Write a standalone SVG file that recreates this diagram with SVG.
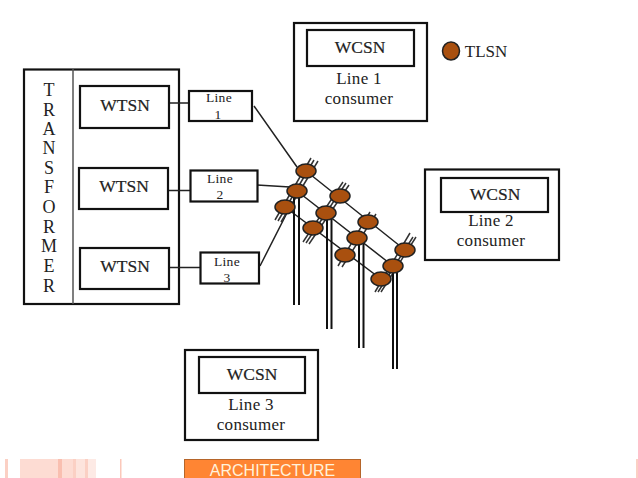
<svg xmlns="http://www.w3.org/2000/svg" width="638" height="478" viewBox="0 0 638 478">
<defs><style>
.b{fill:#fff;stroke:#111;stroke-width:2.2}
.t{font-family:"Liberation Serif",serif;fill:#222;text-anchor:middle}
.w{font-size:17.5px;stroke:#222;stroke-width:.2}
.s{font-size:13.5px;letter-spacing:.3px}
.c{font-size:17px;letter-spacing:.3px}
.n{fill:#a9500f;stroke:#222;stroke-width:1.5}
.l{fill:none;stroke:#222;stroke-width:1.5}
.h{fill:none;stroke:#333;stroke-width:1.5}
.p{fill:none;stroke:#111;stroke-width:2}
</style></defs>
<rect width="638" height="478" fill="#fff"/>
<g id="transformer">
<rect class="b" x="24" y="69.500" width="155" height="234.500"/>
<line x1="73" y1="69" x2="73" y2="304" stroke="#555" stroke-width="1.500"/>
<g class="t" font-size="18px">
<text x="49" y="96">T</text><text x="49" y="116">R</text><text x="49" y="135">A</text><text x="49" y="154">N</text><text x="49" y="174">S</text><text x="49" y="193">F</text><text x="49" y="213">O</text><text x="49" y="233">R</text><text x="49" y="252">M</text><text x="49" y="272">E</text><text x="49" y="292">R</text>
</g></g>
<g id="connectors">
<path class="l" d="M169 103H189M168 190.500H190M169 267.500H200"/>
<path class="l" d="M254 106L297 167M257 185L290 187M260 266L291 205"/>
<path class="l" d="M306 171L405 250M297 191L393 266M285 207L381 279"/>
<g class="h">
<path d="M311 158L275 220M314 160L278 221M318 161L281 222"/>
<path d="M343 182L303 242M346 183L306 243M349 185L309 244"/>
<path d="M370 212L338 266M376 214L342 267"/>
<path d="M410 233L375 292M413 237L378 292M416 237L381 292"/>
</g>
<g class="p">
<path d="M294 198V305M299 198V305M327 218V329M331.500 218V329M359 242V348M363.500 242V348M393 270V369M397 270V369"/>
</g></g>
<g id="node-wtsn-1"><rect class="b" x="80" y="86" width="89" height="42"/><text class="t w" x="125" y="111">WTSN</text></g>
<g id="node-wtsn-2"><rect class="b" x="79" y="168" width="89" height="41"/><text class="t w" x="124" y="192">WTSN</text></g>
<g id="node-wtsn-3"><rect class="b" x="80" y="248" width="89" height="41"/><text class="t w" x="125" y="272">WTSN</text></g>
<g id="node-line-1"><rect class="b" x="189" y="91" width="63" height="30"/><text class="t s" x="219" y="102">Line</text><text class="t s" x="218" y="119">1</text></g>
<g id="node-line-2"><rect class="b" x="190.500" y="170.500" width="67" height="31"/><text class="t s" x="220" y="183">Line</text><text class="t s" x="220" y="199">2</text></g>
<g id="node-line-3"><rect class="b" x="200.500" y="252.500" width="58.500" height="31"/><text class="t s" x="227" y="266">Line</text><text class="t s" x="227" y="282">3</text></g>
<g id="node-tlsn-grid">
<ellipse class="n" cx="306" cy="171" rx="10" ry="7"/><ellipse class="n" cx="297" cy="191" rx="10" ry="7"/><ellipse class="n" cx="285" cy="207" rx="10" ry="7"/>
<ellipse class="n" cx="340" cy="196" rx="10" ry="7"/><ellipse class="n" cx="326" cy="213" rx="10" ry="7"/><ellipse class="n" cx="313" cy="228" rx="10" ry="7"/>
<ellipse class="n" cx="368" cy="222" rx="10" ry="7"/><ellipse class="n" cx="357" cy="238" rx="10" ry="7"/><ellipse class="n" cx="345" cy="255" rx="10" ry="7"/>
<ellipse class="n" cx="405" cy="250" rx="10" ry="7"/><ellipse class="n" cx="393" cy="266" rx="10" ry="7"/><ellipse class="n" cx="381" cy="279" rx="10" ry="7"/>
</g>
<g id="node-consumer-1"><rect class="b" x="294" y="23" width="133" height="98"/><rect class="b" x="307" y="30" width="107" height="36"/><text class="t w" x="360" y="53">WCSN</text><text class="t c" x="359" y="84">Line 1</text><text class="t c" x="359" y="104">consumer</text></g>
<g id="node-consumer-2"><rect class="b" x="425" y="169.500" width="134" height="90.500"/><rect class="b" x="441" y="178" width="107" height="34"/><text class="t w" x="495" y="200">WCSN</text><text class="t c" x="491" y="226">Line 2</text><text class="t c" x="491" y="246">consumer</text></g>
<g id="node-consumer-3"><rect class="b" x="185" y="350" width="133" height="90"/><rect class="b" x="199" y="357" width="106" height="36"/><text class="t w" x="252" y="380">WCSN</text><text class="t c" x="251" y="410">Line 3</text><text class="t c" x="251" y="430">consumer</text></g>
<g id="node-legend"><ellipse class="n" cx="451" cy="51" rx="8.500" ry="9"/><text class="t" font-size="17px" x="486" y="57">TLSN</text></g>
<g id="footer">
<rect x="5" y="459" width="3" height="19" fill="#fbd0c4"/><rect x="20" y="459" width="38" height="19" fill="#fddcd3"/><rect x="58" y="459" width="4" height="19" fill="#f9bfb0"/><rect x="62" y="459" width="11" height="19" fill="#fddcd3"/><rect x="73" y="459" width="3" height="19" fill="#fbd0c4"/><rect x="76" y="459" width="9" height="19" fill="#fde4dd"/><rect x="85" y="459" width="3" height="19" fill="#fbd0c4"/><rect x="88" y="459" width="8" height="19" fill="#fdeae5"/><rect x="120" y="459" width="1.500" height="19" fill="#fbc8ba"/><rect x="636" y="459" width="2" height="19" fill="#fbd0c4"/>
<rect x="184.500" y="459.500" width="176" height="19" fill="#ff8533" stroke="#b5652a"/>
<text x="272.500" y="475.500" font-family="Liberation Sans,sans-serif" font-size="16px" fill="#fff2dc" text-anchor="middle">ARCHITECTURE</text>
</g>
</svg>
